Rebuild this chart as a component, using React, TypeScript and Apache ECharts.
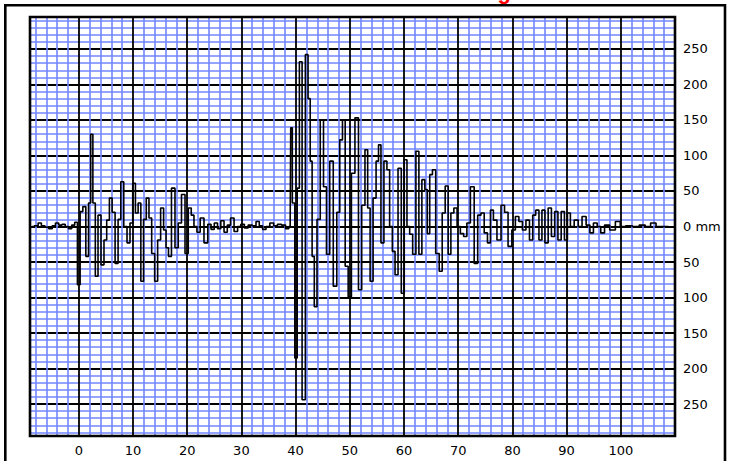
import React, { useEffect, useRef } from "react";
import * as echarts from "echarts";

// ---- data ----
const titleText = "Seismic Recording";
const xMajorTicks = [0, 10, 20, 30, 40, 50, 60, 70, 80, 90, 100];
const yMajorTicks = [-250, -200, -150, -100, -50, 0, 50, 100, 150, 200, 250];
const yUnit = "mm";

const preEventTimes = [-8.6, -7.8, -7.2, -6.6, -5.9, -5.2, -4.6, -4.0, -3.4, -2.8, -2.2, -1.6, -1.0, -0.5];
const preEventAmps = [0, 1, 5, 1, -1, -3, 1, 5, 2, 3, 0, -3, 2, 6];

const firstEventTimes = [
  0.0, 0.5, 1.0, 1.6, 2.0, 2.4, 2.8, 3.3, 3.8, 4.4, 4.9, 5.4, 5.9, 6.4, 7.0, 7.5, 8.0, 8.6, 9.2, 9.7,
  10.2, 10.7, 11.2, 11.7, 12.2, 12.7, 13.2, 13.7, 14.3, 14.8, 15.4, 15.9, 16.3, 16.8, 17.4, 18.1, 18.6, 19.3, 19.9,
  20.5, 21.0, 21.5, 22.1, 22.7, 23.5, 24.1, 24.7, 25.3, 25.9, 26.5, 27.1, 27.7, 28.3, 29.0, 29.6,
  30.2, 30.9, 31.6, 32.4, 33.0, 33.6, 34.2, 34.9, 35.6, 36.3, 37.0, 37.8, 38.5, 39.0,
];
const firstEventAmps = [
  -82, 21, 28, -42, 33, 130, 33, -70, 16, -54, -19, 9, 40, 20, -52, 10, 63, 0, -23, 5,
  61, 19, 33, -77, 10, 40, 12, -38, -77, -19, 26, -5, -30, -42, 54, -30, 5, 45, -38,
  26, 16, 0, -8, 12, -23, 3, -4, 5, -3, 8, -8, 2, 12, -7, 0,
  3, -2, 2, 1, 7, 1, -4, 0, 5, 1, 3, 2, -3, 0,
];

const mainEventTimes = [
  39.2, 39.6, 40.1, 40.5, 40.9, 41.5, 42.1, 42.5, 42.9, 43.2, 43.7, 44.2, 44.9, 45.4, 46.0, 46.6, 47.3, 47.9, 48.4, 48.9,
  49.4, 50.0, 50.6, 51.3, 51.9, 52.5, 53.1, 53.5, 54.0, 54.6, 55.1, 55.5, 56.0, 56.6, 57.1, 57.6, 58.1, 58.6, 59.2, 59.8,
  60.3, 60.8, 61.3, 61.9, 62.5, 63.0, 63.6, 64.1, 64.5, 65.0, 65.5, 66.2, 66.8, 67.3, 67.9, 68.4, 68.9, 69.5,
];
const mainEventAmps = [
  139, 33, -185, 54, 232, -244, 242, 180, 92, -42, -113, 10, 150, 56, -39, 92, -84, 20, 122, 150,
  -56, -99, 75, 153, -89, 30, 108, 26, -77, 40, 92, 115, -23, 92, 80, 0, -35, -68, 82, -94,
  94, 0, -11, -39, 106, -39, 66, 52, -10, 73, 80, -38, -63, 19, 57, -39, 19, 26,
];

const codaTimes = [
  70.1, 70.7, 71.3, 71.9, 72.6, 73.3, 73.9, 74.5, 75.1, 75.7, 76.2, 76.8, 77.5, 78.3, 78.8, 79.6,
  80.2, 80.9, 81.5, 82.2, 82.8, 83.5, 84.0, 84.6, 85.2, 85.7, 86.3, 86.9, 87.5, 88.1, 88.7, 89.3, 89.9,
  90.4, 91.0, 91.8, 92.5, 93.2, 94.0, 94.6, 95.3, 96.0, 96.6, 97.4, 98.5, 99.5,
  100.3, 101.5, 102.8, 104.0, 105.0, 106.0, 107.0, 108.8,
];
const codaAmps = [
  0, -10, -14, 5, 56, -52, 16, 19, -9, -23, 23, 9, -19, 30, 20, -28,
  -5, 14, 7, -5, 9, -19, 16, 23, -19, 23, -23, 26, -14, 21, -19, 21, -19,
  19, 0, 9, 0, 14, 2, -9, 5, 0, -9, 2, -5, 7,
  0, 1, 0, 2, 0, 5, 0, 0,
];

const sampleTimes = [...preEventTimes, ...firstEventTimes, ...mainEventTimes, ...codaTimes];
const amplitudes = [...preEventAmps, ...firstEventAmps, ...mainEventAmps, ...codaAmps];

// ---- layout ----
const X_MIN = -9;
const X_MAX = 110;
const Y_MIN = -295;
const Y_MAX = 295;
const GRID = { left: 30, top: 17, width: 645, height: 419 };
const FONT = "'DejaVu Sans', 'Liberation Sans', sans-serif";

export default function App() {
  const ref = useRef<HTMLDivElement>(null);

  useEffect(() => {
    if (!ref.current) return;
    const chart = echarts.init(ref.current, null, { renderer: "svg" });

    const minorX: number[] = [];
    for (let v = -8; v < X_MAX; v += 2) if (v % 10 !== 0) minorX.push(v);
    const minorY: number[] = [];
    for (let v = -290; v <= 290; v += 10) if (v % 50 !== 0) minorY.push(v);

    const data = sampleTimes.map((t, i) => [t, amplitudes[i]]);

    chart.setOption({
      animation: false,
      backgroundColor: "#ffffff",
      grid: { ...GRID, show: false },
      xAxis: [
        {
          type: "value",
          min: X_MIN,
          max: X_MAX,
          axisLine: { show: false },
          axisTick: { show: false, customValues: minorX },
          axisLabel: { show: false, customValues: minorX },
          splitLine: { show: true, lineStyle: { color: "#7186ff", width: 1.6 } },
        },
        {
          type: "value",
          min: X_MIN,
          max: X_MAX,
          position: "bottom",
          axisLine: { show: false },
          axisTick: { show: false, customValues: xMajorTicks },
          axisLabel: {
            customValues: xMajorTicks,
            color: "#000",
            fontSize: 13,
            fontFamily: FONT,
            margin: 8,
          },
          splitLine: { show: true, lineStyle: { color: "#000", width: 1.8 } },
        },
      ],
      yAxis: [
        {
          type: "value",
          min: Y_MIN,
          max: Y_MAX,
          axisLine: { show: false },
          axisTick: { show: false, customValues: minorY },
          axisLabel: { show: false, customValues: minorY },
          splitLine: { show: true, lineStyle: { color: "#7186ff", width: 1.6 } },
        },
        {
          type: "value",
          min: Y_MIN,
          max: Y_MAX,
          position: "right",
          axisLine: { show: false },
          axisTick: { show: false, customValues: yMajorTicks },
          axisLabel: {
            customValues: yMajorTicks,
            color: "#000",
            fontSize: 13,
            fontFamily: FONT,
            margin: 8,
            formatter: (v: number) => (v === 0 ? `0 ${yUnit}` : String(Math.abs(v))),
          },
          splitLine: { show: true, lineStyle: { color: "#000", width: 1.8 } },
        },
      ],
      series: [
        {
          type: "line",
          xAxisIndex: 1,
          yAxisIndex: 1,
          data,
          step: "middle",
          showSymbol: false,
          symbol: "none",
          clip: true,
          z: 5,
          lineStyle: { color: "#000", width: 1.6 },
        },
      ],
      graphic: [
        {
          type: "rect",
          z: 20,
          shape: { x: 5.3, y: 5.3, width: 719.7, height: 500 },
          style: { fill: "none", stroke: "#000", lineWidth: 2.6 },
        },
        {
          type: "rect",
          z: 20,
          shape: { x: GRID.left, y: GRID.top, width: GRID.width, height: GRID.height },
          style: { fill: "none", stroke: "#000", lineWidth: 2.6 },
        },
        {
          type: "text",
          z: 20,
          x: 511,
          y: 2,
          style: {
            text: titleText,
            fill: "#ff0000",
            font: "bold 22px 'Liberation Sans', sans-serif",
            textAlign: "right",
            textVerticalAlign: "bottom",
          },
        },
      ],
    });

    return () => chart.dispose();
  }, []);

  return (
    <div
      ref={ref}
      style={{ position: "absolute", left: 0, top: 0, width: 730, height: 461 }}
    />
  );
}
